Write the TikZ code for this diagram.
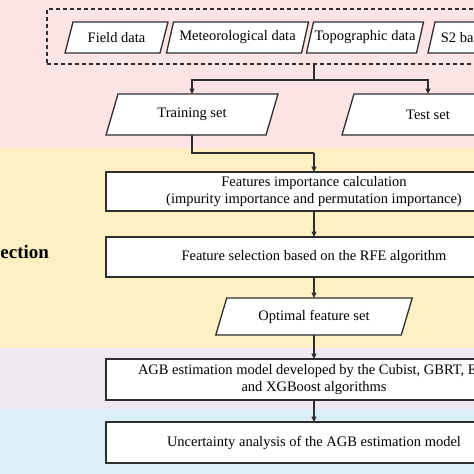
\documentclass[tikz,border=0pt]{standalone}
\usepackage{fontspec}
\setmainfont{Liberation Serif}
\usetikzlibrary{arrows.meta}
\pgfdeclarelayer{bands}
\pgfdeclarelayer{shapes}
\pgfsetlayers{bands,shapes,main}
\definecolor{bandpink}{HTML}{FCE4E5}
\definecolor{bandyellow}{HTML}{FEF0C3}
\definecolor{bandlav}{HTML}{EEE8F0}
\definecolor{bandblue}{HTML}{DCEFF8}
\definecolor{lincol}{HTML}{2E2E2E}
\tikzset{
  txt/.style={inner sep=0pt, outer sep=0pt, font=\fontsize{14.5}{17.5}\selectfont, text=black, align=center},
  para/.style={txt, minimum width=#1},
  boxnode/.style={txt, draw=lincol, line width=1.3pt, fill=white, minimum width=416pt},
  arr/.style={draw=lincol, line width=1.1pt, -{Triangle[length=5.5pt,width=5pt]}},
  conn/.style={draw=lincol, line width=1.1pt},
  paraline/.style={draw=lincol, line width=1.3pt, fill=white, line join=miter}
}
\newcommand{\paradraw}[2]{%
  \draw[paraline] ([xshift=-#2/2]#1.south west) -- ([xshift=#2/2]#1.north west) -- ([xshift=#2/2]#1.north east) -- ([xshift=-#2/2]#1.south east) -- cycle;}
\begin{document}
\begin{tikzpicture}[x=1pt, y=-1pt]
\useasboundingbox (0,0) rectangle (474,474);
\clip (0,0) rectangle (474,474);
\begin{pgfonlayer}{bands}
  \fill[bandpink] (0,0) rectangle (474,148);
  \fill[bandyellow] (0,148) rectangle (474,348);
  \fill[bandlav] (0,348) rectangle (474,409);
  \fill[bandblue] (0,409) rectangle (474,474);
\end{pgfonlayer}
% source group
\node[draw=lincol, line width=1.1pt, dashed, dash pattern=on 4pt off 3pt, minimum width=553pt, minimum height=55pt, inner sep=0pt] (src) at (323.5,36.5) {};
\node[para=95pt, minimum height=31pt] (fd) at (116.5,37.5) {Field data};
\node[para=135pt, minimum height=31pt] (met) at (237.5,37.5) {Meteorological data};
\node[para=110pt, minimum height=31pt] (topo) at (365,37.5) {Topographic data};
\node[para=120pt, minimum height=31pt] (s2) at (491.5,37.5) {};
\node[txt, anchor=east] (s2t) at (473.5,37.5) {S2 ba};
% sets
\node[para=160pt, minimum height=41pt] (train) at (192,114.5) {Training set};
\node[para=160pt, minimum height=41pt] (test) at (428,114.5) {Test set};
% feature selection
\node[txt, anchor=west, font=\fontsize{19}{21}\selectfont\bfseries] (sec) at (0.5,252) {ection};
\node[boxnode, minimum height=39pt] (feat) at (314,191.5) {Features importance calculation\\(impurity importance and permutation importance)};
\node[boxnode, minimum height=40pt] (fsel) at (314,257) {Feature selection based on the RFE algorithm};
\node[para=185.5pt, minimum height=37pt] (opt) at (314,316.5) {Optimal feature set};
\node[boxnode, minimum height=41pt] (agb) at (314,379.5) {};
\node[txt, anchor=west] (agb1) at (138,371) {AGB estimation model developed by the Cubist, GBRT, E};
\node[txt] (agb2) at (314,388.5) {and XGBoost algorithms};
\node[boxnode, minimum height=41pt] (unc) at (314,442.5) {Uncertainty analysis of the AGB estimation model};
\begin{pgfonlayer}{shapes}
  \paradraw{fd}{8pt}
  \paradraw{met}{7pt}
  \paradraw{topo}{7pt}
  \paradraw{s2}{7pt}
  \paradraw{train}{12pt}
  \paradraw{test}{12pt}
  \paradraw{opt}{11pt}
\end{pgfonlayer}
% connectors
\coordinate (split) at (314,80);
\coordinate (join) at (314,153);
\draw[conn] (src.south -| split) -- (split);
\draw[arr] (split) -| (train.north);
\draw[arr] (split) -| (test.north);
\draw[conn] (train.south) |- (join);
\draw[arr] (join) -- (feat.north);
\draw[arr] (feat.south) -- (fsel.north);
\draw[arr] (fsel.south) -- (opt.north);
\draw[arr] (opt.south) -- (agb.north);
\draw[arr] (agb.south) -- (unc.north);
\end{tikzpicture}
\end{document}
